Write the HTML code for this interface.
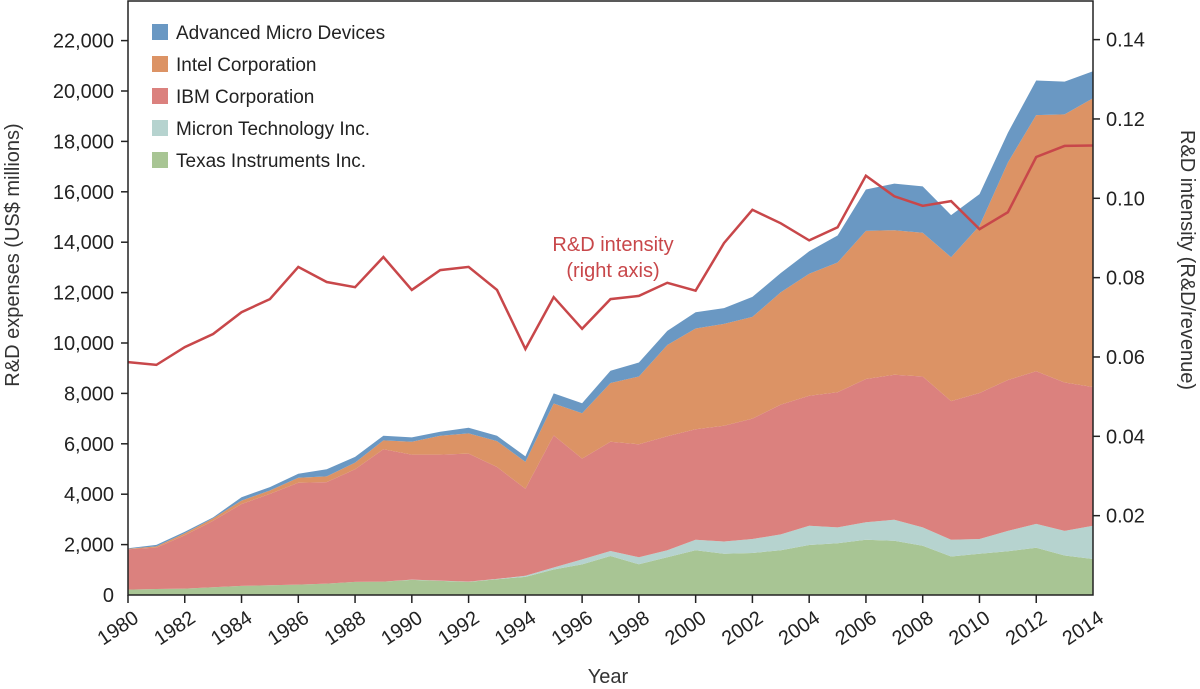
<!DOCTYPE html>
<html><head><meta charset="utf-8"><style>
body{margin:0;background:#fff}
svg{display:block;font-family:"Liberation Sans",sans-serif}
</style></head><body>
<svg id="chart" width="1200" height="689" viewBox="0 0 1200 689" xmlns="http://www.w3.org/2000/svg">
<g id="areas"></g>
<g id="line"></g>
<g id="axes"></g>
<g id="legend"></g>
<text x="613" y="251" fill="#c8474a" font-size="20" text-anchor="middle">R&amp;D intensity</text>
<text x="613" y="277" fill="#c8474a" font-size="20" text-anchor="middle">(right axis)</text>
<text x="608" y="683" fill="#333" font-size="20" text-anchor="middle">Year</text>
<text transform="translate(19,255) rotate(-90)" fill="#333" font-size="20" text-anchor="middle">R&amp;D expenses (US$ millions)</text>
<text transform="translate(1181,260) rotate(90)" fill="#333" font-size="20" text-anchor="middle">R&amp;D intensity (R&amp;D/revenue)</text>
</svg>
<script>
const years=[1980,1981,1982,1983,1984,1985,1986,1987,1988,1989,1990,1991,1992,1993,1994,1995,1996,1997,1998,1999,2000,2001,2002,2003,2004,2005,2006,2007,2008,2009,2010,2011,2012,2013,2014];
const ti=[213,240,253,307,360,387,413,453,520,533,600,560,520,627,720,1013,1213,1547,1218,1500,1777,1638,1666,1777,1984,2055,2194,2150,1956,1528,1638,1734,1873,1567,1428];
const micron=[0,0,0,0,0,0,0,0,0,0,13,13,13,13,40,80,200,200,282,277,417,485,556,627,766,627,695,838,726,666,584,809,948,976,1322];
const ibm=[1600,1640,2120,2640,3253,3626,4040,4027,4467,5254,4960,5000,5080,4440,3453,5240,4000,4333,4480,4524,4386,4595,4778,5151,5154,5361,5682,5750,5988,5500,5793,5988,6056,5889,5503];
const intel=[20,50,80,93,134,134,200,227,266,346,507,747,800,1027,1067,1266,1800,2333,2690,3619,3995,4039,4035,4456,4845,5151,5876,5737,5706,5710,6639,8631,10165,10638,11456];
const amd=[20,57,54,40,133,133,160,280,227,187,173,160,227,213,220,400,400,487,556,559,643,627,794,766,889,1071,1643,1849,1837,1670,1253,1182,1374,1302,1076];
const intensity=[0.0587,0.058,0.0625,0.0658,0.0713,0.0746,0.0827,0.0789,0.0776,0.0852,0.0769,0.0819,0.0827,0.0769,0.062,0.0751,0.0671,0.0746,0.0754,0.0787,0.0767,0.0887,0.0971,0.0937,0.0894,0.0927,0.1057,0.1005,0.0981,0.0993,0.0922,0.0965,0.1104,0.1132,0.1133];
const leftTicks=[0,2000,4000,6000,8000,10000,12000,14000,16000,18000,20000,22000];
const rightTicks=[0.02,0.04,0.06,0.08,0.10,0.12,0.14];
const xTicks=[1980,1982,1984,1986,1988,1990,1992,1994,1996,1998,2000,2002,2004,2006,2008,2010,2012,2014];
const seriesNames=["Texas Instruments Inc.","Micron Technology Inc.","IBM Corporation","Intel Corporation","Advanced Micro Devices"];
const seriesKeys=["texas-instruments","micron","ibm","intel","amd"];
const seriesColors=["#a8c594","#b6d3cf","#db817e","#dc9365","#6a98c3"];
const NS="http://www.w3.org/2000/svg";
const X0=128,X1=1093,Y0=595;
const xs=y=>X0+(y-1980)/(2014-1980)*(X1-X0);
const yl=v=>Y0-v*0.0252;
const yr=v=>Y0-v*3967;
function mk(tag,attrs,parent){const e=document.createElementNS(NS,tag);for(const k in attrs)e.setAttribute(k,attrs[k]);parent.appendChild(e);return e;}
const series=[ti,micron,ibm,intel,amd];
const areas=document.getElementById('areas');
let base=years.map(()=>0);
series.forEach((s,i)=>{
  const top=base.map((b,j)=>b+s[j]);
  let d='M'+years.map((y,j)=>xs(y).toFixed(1)+','+yl(top[j]).toFixed(1)).join('L');
  for(let j=years.length-1;j>=0;j--)d+='L'+xs(years[j]).toFixed(1)+','+yl(base[j]).toFixed(1);
  const p=mk('path',{d:d+'Z',fill:seriesColors[i]},areas);
  
  
  base=top;
});
const lg=document.getElementById('line');
const ln=mk('polyline',{points:years.map((y,j)=>xs(y).toFixed(1)+','+yr(intensity[j]).toFixed(1)).join(' '),fill:'none',stroke:'#c8474a','stroke-width':2.5},lg);


const ax=document.getElementById('axes');
const st={stroke:'#222','stroke-width':1.5};
const fr=mk('rect',Object.assign({x:X0,y:1,width:X1-X0,height:Y0-1,fill:'none'},st),ax);


leftTicks.forEach(v=>{
  if(v>0)mk('line',Object.assign({x1:X0-7,y1:yl(v),x2:X0,y2:yl(v)},st),ax);
  const t=mk('text',{x:X0-14,y:yl(v)+7,'text-anchor':'end','font-size':20,fill:'#222'},ax);
  t.textContent=v.toLocaleString('en-US');
  
  
});
rightTicks.forEach(v=>{
  mk('line',Object.assign({x1:X1,y1:yr(v),x2:X1+7,y2:yr(v)},st),ax);
  const t=mk('text',{x:X1+13,y:yr(v)+7,'font-size':20,fill:'#222'},ax);
  t.textContent=v.toFixed(2);
  
  
});
xTicks.forEach(y=>{
  if(y<2014)mk('line',Object.assign({x1:xs(y),y1:Y0,x2:xs(y),y2:Y0+8},st),ax);
  const t=mk('text',{transform:`translate(${xs(y)+12},${Y0+26}) rotate(-34)`,'text-anchor':'end','font-size':20,fill:'#222'},ax);
  t.textContent=y;
  
  
});
const leg=document.getElementById('legend');
for(let i=4;i>=0;i--){
  const row=4-i, y=32+row*32;
  const r=mk('rect',{x:152,y:y-8,width:16,height:16,fill:seriesColors[i]},leg);
  
  
  const t=mk('text',{x:176,y:y+7,'font-size':19,fill:'#222'},leg);
  t.textContent=seriesNames[i];
  
  
}
</script>
</body></html>
